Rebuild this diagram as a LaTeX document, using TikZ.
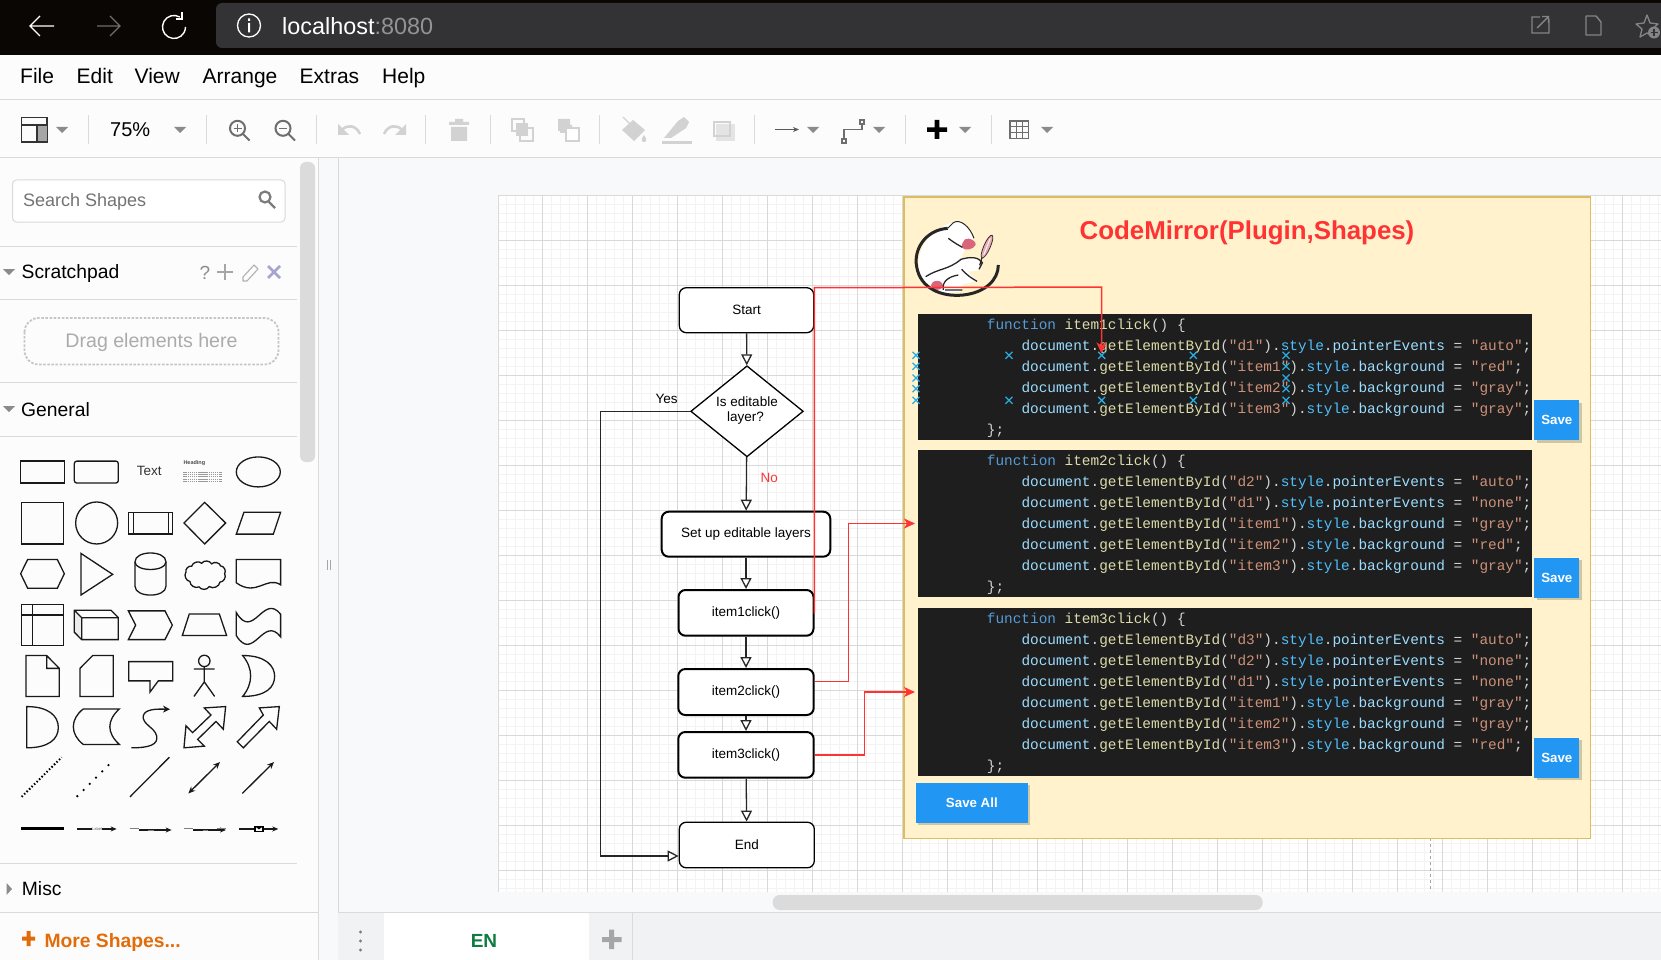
\documentclass[tikz,border=0pt]{standalone}
\usepackage{fontspec}
\setmainfont{Liberation Sans}
\setmonofont{Liberation Mono}
\usetikzlibrary{arrows.meta,shapes.geometric}
\newcommand\fs[1]{\fontsize{#1}{#1}\selectfont}
\definecolor{topbar}{HTML}{0A0603}
\definecolor{addr}{HTML}{333335}
\definecolor{barbg}{HTML}{FCFCFC}
\definecolor{rule}{HTML}{DADADA}
\definecolor{canvasbg}{HTML}{F8F9FA}
\definecolor{footbg}{HTML}{F1F2F4}
\definecolor{gmaj}{HTML}{D9D9D9}
\definecolor{gmin}{HTML}{F3F3F3}
\definecolor{yfill}{HTML}{FFF2CC}
\definecolor{ystroke}{HTML}{E0BC60}
\definecolor{redc}{HTML}{FF3333}
\definecolor{panelc}{HTML}{1E1E1E}
\definecolor{btn}{HTML}{2196F3}
\definecolor{btnsh}{HTML}{CFC6A6}
\definecolor{cross}{HTML}{29ABE2}
\definecolor{ck}{HTML}{569CD6}
\definecolor{cv}{HTML}{9CDCFE}
\definecolor{cf}{HTML}{DCDCAA}
\definecolor{cs}{HTML}{CE9178}
\definecolor{cw}{HTML}{D4D4D4}
\definecolor{cc}{HTML}{4FC1FF}
\definecolor{dis}{HTML}{D2D2D2}
\definecolor{icon}{HTML}{6E6E6E}
\definecolor{orangec}{HTML}{E36C0A}
\definecolor{greenc}{HTML}{107C41}
\definecolor{pinkc}{HTML}{D9647C}
\tikzset{
  lbl/.style={anchor=base west,inner sep=0pt},
  mnu/.style={lbl,font=\fs{21},text=black},
  sect/.style={lbl,font=\fs{19.3},text=black},
  codetxt/.style={lbl,font=\ttfamily\fs{14.4},text=cw},
  fcnode/.style={draw=black,fill=white,rounded corners=7pt,line width=1.3pt,inner sep=0pt,font=\fs{13.5},text=black},
  fcthick/.style={fcnode,line width=2pt},
  oarrow/.style={-{Triangle[fill=white,length=11pt,width=11pt]},line width=1.3pt,draw=black!85},
  rarrow/.style={-{Stealth[length=11pt,width=10pt,inset=3pt]},line width=1.5pt,draw=redc,color=redc},
  savebtn/.style={fill=btn,text=white,inner sep=0pt,font=\bfseries\fs{13.3},minimum height=40pt},
  shp/.style={line width=1.3pt,draw=black!90},
  sep/.style={draw=rule,line width=1pt},
  crossm/.style={draw=cross,line width=1.3pt},
}
\newcommand\ddtri[1]{\fill[icon!80] ({#1-6},127) -- ({#1+6},127) -- (#1,133) -- cycle;}
\newcommand\vsep[1]{\draw[sep] (#1,115) -- (#1,144);}
\newcommand\cl[4]{\node[codetxt] (cl#1) at (1021.3,#1) {\textcolor{cv}{document}.\textcolor{cf}{getElementById}(\textcolor{cs}{"#2"}).\textcolor{cc}{style}.\textcolor{cv}{#3} = \textcolor{cs}{"#4"};};}
\newcommand\fl[2]{\node[codetxt] (fn#1) at (986.7,#2) {\textcolor{ck}{function} \textcolor{cf}{item#1click}() \{};}
\newcommand\el[2]{\node[codetxt] (en#1) at (986.7,#2) {\};};}
\newcommand\xm[2]{\draw[crossm] ({#1-3.5},{#2-3.5}) -- ({#1+3.5},{#2+3.5}) ({#1-3.5},{#2+3.5}) -- ({#1+3.5},{#2-3.5});}
\begin{document}
\begin{tikzpicture}[x=1pt,y=-1pt]
\useasboundingbox (0,0) rectangle (1661,960);
% backgrounds
\fill[barbg] (0,55) rectangle (1661,158);
\fill[canvasbg] (318,158) rectangle (1661,960);
\fill[barbg] (0,158) rectangle (318,960);
\fill[white] (498,196) rectangle (1661,892);
% grid
\begin{scope}
\clip (498,196) rectangle (1661,892);
\foreach \i in {0,...,130} {\draw[gmin,line width=.8pt] ({497.3+9*\i},196) -- ({497.3+9*\i},892);}
\foreach \i in {0,...,78} {\draw[gmin,line width=.8pt] (498,{195.7+9*\i}) -- (1661,{195.7+9*\i});}
\foreach \i in {0,...,26} {\draw[gmaj,line width=.8pt] ({497.3+45*\i},196) -- ({497.3+45*\i},892);}
\foreach \i in {1,...,15} {\draw[gmaj,line width=.8pt] (498,{195.7+45*\i}) -- (1661,{195.7+45*\i});}
\end{scope}
\draw[rule,line width=1pt] (498,892) -- (498,195.5) -- (1661,195.5);
\draw[gray!70,dashed,line width=.8pt] (1430.3,838) -- (1430.3,892);
% top bar
\fill[topbar] (0,0) rectangle (1661,55);
\fill[addr,rounded corners=6pt] (216,3) rectangle (1680,48);
\draw[white,line width=1.4pt] (54,26) -- (31,26) (40,16) -- (30,26) -- (40,36);
\draw[icon,line width=1.4pt] (97,26) -- (120,26) (110,16) -- (120,26) -- (110,36);
\draw[white,line width=1.4pt] (179.75,17) arc[start angle=60,end angle=360,radius=11.5pt];
\draw[white,line width=1.4pt] (182,12.5) -- (182,19) -- (175.5,19);
\draw[white,line width=1.3pt] (249,25.5) circle[radius=11.5pt];
\fill[white] (248,23) rectangle (250.2,32.5) (248,18.5) rectangle (250.2,21);
\node[lbl,font=\fs{23.4},text=white] (url) at (282,34.3) {localhost\textcolor{gray!85}{:8080}};
\draw[icon!85!white,line width=1.4pt] (1549,19) -- (1549,33) -- (1532,33) -- (1532,17) -- (1540,17) (1537,28) -- (1548,17) (1542,16.5) -- (1548.5,16.5) -- (1548.5,23);
\draw[icon!85!white,line width=1.4pt,line join=round] (1586,16) -- (1596,16) -- (1601,22) -- (1601,35) -- (1586,35) -- cycle;
\draw[icon!85!white,line width=1.3pt,line join=round] (1647,15) -- (1650,23) -- (1658,24) -- (1652,29) -- (1654,37) -- (1647,33) -- (1640,37) -- (1642,29) -- (1636,24) -- (1644,23) -- cycle;
\fill[icon!85!white] (1654,32.5) circle[radius=6pt];
\draw[addr,line width=1.3pt] (1650.5,32.5) -- (1657.5,32.5) (1654,29) -- (1654,36);
% menu
\node[mnu] (mfile) at (20,83.2) {File};
\node[mnu] (medit) at (76.5,83.2) {Edit};
\node[mnu] (mview) at (134.5,83.2) {View};
\node[mnu] (marr) at (202.5,83.2) {Arrange};
\node[mnu] (mext) at (299.5,83.2) {Extras};
\node[mnu] (mhelp) at (382,83.2) {Help};
\draw[rule,line width=1pt] (0,100) -- (1661,100) (0,158) -- (1661,158);
% toolbar
\draw[black!80,line width=1.5pt] (21.5,117.5) rectangle (47,142);
\fill[gray!70] (37,125) rectangle (46.5,141.5);
\draw[black!80,line width=1.2pt] (21.5,125) -- (47,125) (37,125) -- (37,142);
\ddtri{62}\vsep{88}
\node[lbl,font=\fs{20},text=black] (zoomv) at (110,136.7) {75\%};
\ddtri{180}\vsep{206}
\draw[icon,line width=2pt] (237.5,128.3) circle[radius=7.5pt] (243,134) -- (249.5,140.5);
\draw[icon,line width=1.5pt] (233.5,128.3) -- (241.5,128.3) (237.5,124.3) -- (237.5,132.3);
\draw[icon,line width=2pt] (283,128.3) circle[radius=7.5pt] (288.5,134) -- (295,140.5);
\draw[icon,line width=1.5pt] (279,128.3) -- (287,128.3);
\vsep{316}
\draw[dis,line width=2.6pt] (360,134) .. controls (356,125) and (347,124) .. (342,130);
\fill[dis] (338,124) -- (338,135) -- (349,135) -- cycle;
\draw[dis,line width=2.6pt] (384,134) .. controls (388,125) and (397,124) .. (402,130);
\fill[dis] (406,124) -- (406,135) -- (395,135) -- cycle;
\vsep{425}
\fill[dis] (449,122) rectangle (469,125) (455,119) rectangle (463,122) (451,127) rectangle (467,141);
\vsep{490}
\draw[dis,line width=1.4pt] (512,119) rectangle (524,131) (520,128) rectangle (533,141);
\fill[dis] (516,123) rectangle (528,136);
\fill[dis] (558,119) rectangle (570,131) (572,133) rectangle (560,125);
\draw[dis,line width=1.4pt] (566,128) rectangle (579,141);
\fill[white] (567,129) rectangle (578,140);
\vsep{599}
\fill[dis] (633,120) -- (645,130) -- (634,141) -- (622,130) -- cycle;
\draw[dis,line width=1.2pt] (623,117) -- (634,128);
\fill[dis] (644,135) .. controls (641,139) and (641,142) .. (644,142) .. controls (647,142) and (647,139) .. (644,135);
\fill[dis] (664,138) -- (678,121) -- (684,117) -- (689,122) -- (686,128) -- (671,138) -- cycle;
\fill[dis] (662,141) rectangle (692,144);
\fill[dis!60] (716,124) rectangle (735,141);
\draw[dis,line width=2.4pt] (714,122) rectangle (730,136);
\vsep{754}
\draw[icon!80!black,line width=1.3pt,-{Stealth[length=6pt,width=5pt]}] (775,129.5) -- (799,129.5);
\ddtri{813}
\draw[icon,line width=1.3pt] (844,138) -- (844,129.5) -- (862,129.5) -- (862,123);
\draw[icon,line width=1.2pt] (842,139) rectangle (846,143) (860,120) rectangle (864,124);
\ddtri{879}\vsep{905}
\fill[black] (927,127.5) rectangle (947,132) (934.7,120) rectangle (939.3,139);
\ddtri{965}\vsep{991}
\draw[icon,line width=1.2pt] (1010,121) rectangle (1028.6,138.5) (1016.2,121) -- (1016.2,138.5) (1022.4,121) -- (1022.4,138.5) (1010,126.8) -- (1028.6,126.8) (1010,132.7) -- (1028.6,132.7);
\ddtri{1047}
% sidebar
\draw[rule,line width=1pt] (318,158) -- (318,960) (338,158) -- (338,912);
\fill[gray!28,rounded corners=6pt] (300,162) rectangle (315,462);
\draw[rule,line width=1pt,fill=white,rounded corners=4pt] (12.5,180) rectangle (285,222);
\node[lbl,font=\fs{18},text=black!55] (srch) at (23,206) {Search Shapes};
\draw[icon!90,line width=2.2pt] (265,197) circle[radius=5.5pt] (269,202) -- (275,208);
\draw[rule,line width=1pt] (0,246) -- (297,246) (0,299) -- (297,299) (0,382.5) -- (297,382.5) (0,436) -- (297,436) (0,863.4) -- (297,863.4) (0,912.8) -- (318,912.8);
\fill[icon!80] (3,269) -- (15,269) -- (9,275) -- cycle;
\node[sect] (scr) at (21.5,278.3) {Scratchpad};
\node[lbl,anchor=base,font=\fs{19},text=black!45] (qm) at (205,279) {?};
\draw[gray!70,line width=2.4pt] (217,272) -- (233,272) (225,264) -- (225,280);
\draw[gray!60,line width=1.1pt,line join=round] (243,277) -- (243,281) -- (247,281) -- (258,269) -- (254,265) -- cycle;
\draw[blue!30!gray!55,line width=2.5pt] (268,266) -- (280,278) (268,278) -- (280,266);
\draw[gray!45,line width=1.8pt,dash pattern=on 2.5pt off 1.6pt,rounded corners=14pt] (24.5,318) rectangle (278.5,364.5);
\node[font=\fs{19.6},text=black!33,inner sep=0pt] (drag) at (151.5,342.5) {Drag elements here};
\fill[icon!80] (3,406) -- (15,406) -- (9,412) -- cycle;
\node[sect] (gen) at (21,416) {General};
\fill[icon!80] (6.5,883) -- (12,889) -- (6.5,895) -- cycle;
\node[sect] (misc) at (21.7,895.5) {Misc};
\fill[orangec] (22,936.5) rectangle (35,940.5) (26.5,931) rectangle (30.5,946);
\node[lbl,font=\bfseries\fs{19.3},text=orangec] (more) at (44.3,947.5) {More Shapes...};
\draw[gray!70,line width=.9pt] (327.8,560) -- (327.8,570) (330.8,560) -- (330.8,570);
% palette (coordinates read off the zoomed sidebar)
\begin{scope}[x=.3333pt,y=-.3381pt,yshift=-430pt]
\draw[shp] (61,92) rectangle (194,157);
\draw[shp,rounded corners=2.5pt] (223,92) rectangle (355,157);
\node[font=\fs{13.5},text=black!80,inner sep=0pt] (ptxt) at (448,120) {Text};
\node[lbl,font=\bfseries\fs{5.5},text=black!70] (phead) at (550,103) {Heading};
\foreach \yy in {124,131,138,145,151} {\draw[gray!80,line width=.7pt,dash pattern=on 1.5pt off .6pt] (550,\yy) -- (664,\yy);}
\draw[shp] (775,124) ellipse[x radius=22pt,y radius=15pt];
\draw[shp] (65,214) rectangle (190,337);
\draw[shp] (290,275) circle[radius=21pt];
\draw[shp] (386,243) rectangle (518,308) (400,243) -- (400,308) (505,243) -- (505,308);
\draw[shp] (614,214) -- (677,275) -- (614,337) -- (552,275) -- cycle;
\draw[shp] (709,308) -- (732,243) -- (842,243) -- (820,308) -- cycle;
\draw[shp] (62,425) -- (83,383) -- (172,383) -- (193,425) -- (172,468) -- (83,468) -- cycle;
\draw[shp] (243,365) -- (338,427) -- (243,488) -- cycle;
\draw[shp] (405,390) .. controls (405,355) and (498,355) .. (498,390) -- (498,462) .. controls (498,497) and (405,497) .. (405,462) -- cycle;
\draw[shp] (405,390) .. controls (405,420) and (498,420) .. (498,390);
\draw[shp] (558,420) to[bend left=60] (575,403) to[bend left=60] (605,394) to[bend left=60] (635,396) to[bend left=60] (662,402) to[bend left=60] (674,425) to[bend left=60] (660,450) to[bend left=60] (628,463) to[bend left=60] (597,464) to[bend left=60] (570,448) to[bend left=60] cycle;
\draw[shp] (709,383) -- (842,383) -- (842,458) .. controls (800,430) and (770,495) .. (709,452) -- cycle;
\draw[shp] (65,516) rectangle (190,638) (98,516) -- (98,638) (65,547) -- (190,547);
\fill[gray!15] (223,533) -- (245,555) -- (245,620) -- (223,598) -- cycle;
\draw[shp] (223,533) -- (333,533) -- (355,555) -- (355,620) -- (245,620) -- (223,598) -- cycle (223,533) -- (245,555) -- (355,555) (245,555) -- (245,620);
\draw[shp] (385,535) -- (495,535) -- (517,577) -- (495,620) -- (385,620) -- (407,577) -- cycle;
\draw[shp] (547,608) -- (568,544) -- (658,544) -- (680,608) -- cycle;
\draw[shp] (709,540) .. controls (760,625) and (790,480) .. (842,545) -- (842,612) .. controls (790,545) and (760,690) .. (709,608) -- cycle;
\draw[shp] (78,667) -- (140,667) -- (178,705) -- (178,788) -- (78,788) -- cycle (140,667) -- (140,705) -- (178,705);
\draw[shp] (278,667) -- (340,667) -- (340,788) -- (240,788) -- (240,705) -- cycle;
\draw[shp] (386,685) -- (518,685) -- (518,742) -- (475,742) -- (450,775) -- (450,742) -- (386,742) -- cycle;
\draw[shp] (613,683) circle[radius=5.7pt] (613,700) -- (613,745) (582,707) -- (644,707) (582,788) -- (613,745) -- (644,788);
\draw[shp] (728,667) .. controls (800,667) and (824,700) .. (824,728) .. controls (824,760) and (800,788) .. (728,788) .. controls (760,750) and (760,705) .. cycle;
\draw[shp] (80,818) .. controls (145,818) and (175,845) .. (175,880) .. controls (175,915) and (145,940) .. (80,940) -- cycle;
\draw[shp] (250,825) -- (358,825) .. controls (320,860) and (320,895) .. (358,930) -- (250,930) .. controls (210,900) and (210,855) .. cycle;
\draw[shp,-{Stealth[length=7pt,width=7pt]}] (394,940) .. controls (450,940) and (475,930) .. (470,905) .. controls (465,880) and (425,870) .. (430,845) .. controls (435,825) and (470,825) .. (510,826);
\draw[shp,line join=miter] (677,818) -- (670,885) -- (648,862) -- (593,915) -- (613,935) -- (552,940) -- (558,875) -- (578,895) -- (633,843) -- (613,822) -- cycle;
\draw[shp,line join=miter] (838,818) -- (830,885) -- (808,862) -- (730,940) -- (712,922) -- (790,843) -- (778,822) -- cycle;
\draw[black,line width=2pt,dash pattern=on 1.5pt off 2pt] (65,1085) -- (185,968);
\draw[black,line width=1.8pt,dash pattern=on 1.8pt off 7pt] (230,1085) -- (342,975);
\draw[shp] (390,1085) -- (508,968);
\draw[shp,{Stealth[length=7pt,width=6pt]}-{Stealth[length=7pt,width=6pt]}] (565,1075) -- (660,982);
\draw[shp,-{Stealth[length=7pt,width=6pt]}] (727,1075) -- (822,982);
\draw[black,line width=3pt] (63,1180) -- (193,1180);
\draw[shp,-{Stealth[length=6pt,width=5pt]}] (232,1180) -- (350,1180);
\node[font=\fs{4},fill=barbg,text=black!60,inner sep=.3pt] (pl1) at (291,1180) {Label};
\draw[shp,-{Stealth[length=6pt,width=5pt]}] (418,1183) -- (515,1183);
\draw[gray,line width=.6pt] (390,1178) -- (418,1178) (445,1183) -- (462,1183);
\draw[shp,-{Stealth[length=6pt,width=5pt]}] (580,1183) -- (678,1183);
\draw[gray,line width=.6pt] (552,1178) -- (580,1178) (610,1183) -- (625,1183) (650,1178) -- (678,1178);
\draw[shp,-{Stealth[length=6pt,width=5pt]}] (718,1180) -- (835,1180);
\fill[black] (763,1170) rectangle (791,1190);
\fill[barbg] (767,1174) rectangle (787,1186);
\fill[black] (767,1174) -- (787,1174) -- (777,1181) -- cycle;
\end{scope}
% footer
\fill[footbg] (338,912) rectangle (1661,960);
\draw[rule,line width=1pt] (338,912) -- (1661,912);
\fill[white] (383.5,913) rectangle (589,960);
\fill[gray!28,rounded corners=7pt] (772.7,895) rectangle (1262.7,910);
\foreach \yy in {932,941,950} {\fill[icon!90] (360.5,\yy) circle[radius=1.7pt];}
\node[font=\bfseries\fs{19},text=greenc,inner sep=0pt] (tabEN) at (484,941) {EN};
\fill[gray!70] (602,937) rectangle (621.5,942) (609.2,929.5) rectangle (614.2,949);
\draw[rule,line width=1pt] (632,912) -- (632,960);
% yellow panel
\draw[fill=yfill,draw=ystroke,line width=1.5pt] (904,197) rectangle (1590.5,838.7);
\node[font=\bfseries\fs{25.85},text=redc,inner sep=0pt,anchor=base] (title) at (1247,239.3) {CodeMirror(Plugin,Shapes)};
% logo
\begin{scope}[x=.3333pt,y=-.3333pt,xshift=905pt,yshift=-210pt]
\fill[white] (140,38) .. controls (165,25) and (195,50) .. (207,85) -- (180,120) .. controls (172,130) and (168,140) .. (170,148) .. controls (195,140) and (220,140) .. (232,158) -- (225,180) -- (190,185) -- (216,214) -- (175,222) -- (165,245) -- (110,250) .. controls (80,245) and (60,225) .. (50,205) .. controls (25,150) and (50,70) .. (140,38) -- cycle;
\fill[pinkc] (180,88) .. controls (195,80) and (215,95) .. (212,105) .. controls (205,118) and (180,125) .. (170,112) .. controls (170,100) and (175,95) .. (180,88) -- cycle;
\fill[pinkc] (96,226) ellipse[x radius=6pt,y radius=4.5pt];
\draw[black!85,line width=3pt] (128,55) .. controls (60,60) and (25,120) .. (35,170) .. controls (45,235) and (110,262) .. (175,255) .. controls (240,248) and (280,210) .. (280,165);
\draw[black!85,line width=1pt] (128,55) -- (145,38) .. controls (165,25) and (195,50) .. (207,85);
\draw[black!85,line width=1.3pt] (130,85) .. controls (150,100) and (160,105) .. (172,112) (62,200) .. controls (100,175) and (130,180) .. (168,148) .. controls (195,140) and (220,140) .. (232,158) -- (222,178) (170,178) .. controls (185,195) and (200,205) .. (216,214) (115,240) .. controls (110,215) and (130,200) .. (160,195) (120,240) -- (172,240);
\draw[black!80,line width=.8pt,fill=pinkc!55!white,rotate around={-24:(246,110)}] (246,110) ellipse[x radius=3.2pt,y radius=12.5pt];
\draw[white,line width=.8pt] (256,85) -- (236,135);
\draw[black!85,line width=1.2pt] (231,143) -- (224,166);
\end{scope}
% code panels
\fill[panelc] (917.5,314.3) rectangle (1531.7,440);
\fill[panelc] (917.5,450) rectangle (1531.7,596.7);
\fill[panelc] (917.5,608.3) rectangle (1531.7,776);
\fl{1}{329}
\cl{350}{d1}{pointerEvents}{auto}
\cl{371}{item1}{background}{red}
\cl{392}{item2}{background}{gray}
\cl{413}{item3}{background}{gray}
\el{a}{434}
\fl{2}{465}
\cl{486}{d2}{pointerEvents}{auto}
\cl{507}{d1}{pointerEvents}{none}
\cl{528}{item1}{background}{gray}
\cl{549}{item2}{background}{red}
\cl{570}{item3}{background}{gray}
\el{b}{591.5}
\fl{3}{623}
\cl{644}{d3}{pointerEvents}{auto}
\cl{665}{d2}{pointerEvents}{none}
\cl{686}{d1}{pointerEvents}{none}
\cl{707}{item1}{background}{gray}
\cl{728}{item2}{background}{gray}
\cl{749}{item3}{background}{red}
\el{c}{770}
% buttons
\foreach \yy/\nm in {420.4/sa,577.7/sb,757.7/sc} {
  \fill[btnsh] ({1534.3+2.5},{\yy-20+2.5}) rectangle ({1579.3+2.5},{\yy+20+2.5});
  \node[savebtn,minimum width=45pt] (\nm) at (1556.8,\yy) {Save};
}
\fill[btnsh] (917.7,784.7) rectangle (1030,825);
\node[savebtn,minimum width=112.3pt] (saveall) at (971.85,802.7) {Save All};
% flowchart
\node[fcnode,minimum width=134.4pt,minimum height=45pt] (start) at (746.5,310.2) {Start};
\node[diamond,draw=black,fill=white,line width=1.3pt,inner sep=0pt,minimum width=112.6pt,minimum height=89pt,font=\fs{13.5},text=black] (dec) at (747,411.3) {\raisebox{4.5pt}{\shortstack{Is editable\\[2.3pt]layer?\kern3pt}}};
\node[fcthick,minimum width=168.6pt,minimum height=45pt] (setup) at (746,534.2) {Set up editable layers};
\node[fcthick,minimum width=135pt,minimum height=45.7pt] (item1) at (746,612.85) {item1click()};
\node[fcthick,minimum width=135.4pt,minimum height=46pt] (item2) at (746,692) {item2click()};
\node[fcthick,minimum width=135.4pt,minimum height=45.7pt] (item3) at (746,754.85) {item3click()};
\node[fcnode,minimum width=135pt,minimum height=45.6pt] (endn) at (746.8,845) {End};
\node[font=\fs{13.5},text=black,inner sep=0pt] (yesl) at (666.7,399) {Yes};
\node[font=\fs{13.5},text=redc,inner sep=0pt] (nol) at (769.3,478) {No};
\draw[oarrow] (start) -- (dec);
\draw[oarrow] (dec) -- (setup);
\draw[oarrow] (setup) -- (item1);
\draw[oarrow] (item1) -- (item2);
\draw[oarrow] (item2) -- (item3);
\draw[oarrow] (item3) -- (endn);
\coordinate (yesbend) at (600.7,856);
\draw[oarrow] (dec.west) -- (yesbend |- dec.west) -- (yesbend) -- (endn.west |- yesbend);
\coordinate (t1) at (1101.5,353.5);
\coordinate (t2) at (915,523.5);
\coordinate (t3) at (915,692);
\coordinate (b2) at (848.3,681.3);
\coordinate (b3) at (864.7,755);
\draw[rarrow] (item1.east) -- (814.3,612.85) -- (814.3,287.7) -- (t1 |- start.north) -- (t1);
\draw[rarrow] (item2.east |- b2) -- (b2) -- (b2 |- t2) -- (t2);
\draw[rarrow] (item3.east) -- (b3 |- item3.east) -- (b3 |- t3) -- (t3);
% selection handles
\foreach \yy in {355.3,366.3,378,388.7,400.3} {\xm{916}{\yy}\xm{1286}{\yy}}
\foreach \xx in {1009,1101.7,1193.3} {\xm{\xx}{355.3}\xm{\xx}{400.3}}
\end{tikzpicture}
\end{document}
